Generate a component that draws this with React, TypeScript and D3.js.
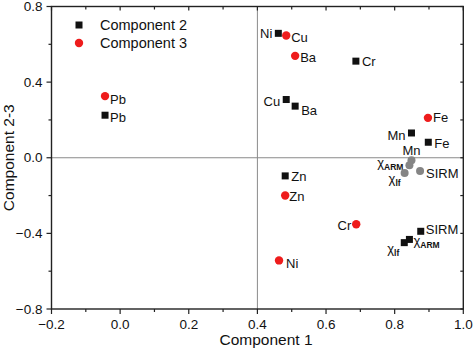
import React from "react";
import * as d3 from "d3";

// loadings
const comp2Names = ["Ni", "Cr", "Cu", "Ba", "Mn", "Fe", "Pb", "Zn", "SIRM", "χARM", "χlf"];
const comp2X = [0.461, 0.687, 0.484, 0.51, 0.849, 0.898, -0.044, 0.481, 0.876, 0.843, 0.828];
const comp2Y = [0.658, 0.511, 0.308, 0.273, 0.131, 0.082, 0.225, -0.096, -0.389, -0.432, -0.449];

const comp3Names = ["Cu", "Ba", "Fe", "Pb", "Zn", "Cr", "Ni"];
const comp3X = [0.484, 0.51, 0.897, -0.044, 0.481, 0.688, 0.463];
const comp3Y = [0.647, 0.539, 0.211, 0.326, -0.2, -0.352, -0.543];

// magnetic + Mn loadings of component 3 drawn in grey
const greyNames = ["Mn", "χARM", "χlf", "SIRM"];
const greyX = [0.849, 0.843, 0.829, 0.874];
const greyY = [-0.013, -0.04, -0.08, -0.07];

const xTicks = [-0.2, 0.0, 0.2, 0.4, 0.6, 0.8, 1.0];
const yTicks = [-0.8, -0.4, 0.0, 0.4, 0.8];
const legendLabels = ["Component 2", "Component 3"];

// label placement next to each marker: [dx, dy, anchor]
const labelPos: Record<string, [number, number, string]> = {
  "c2-Ni": [-6, 0, "end"],
  "c2-Cr": [6, 0, "start"],
  "c2-Cu": [-6, 2, "end"],
  "c2-Ba": [6, 4, "start"],
  "c2-Mn": [-6, 2, "end"],
  "c2-Fe": [6, 1, "start"],
  "c2-Pb": [5, 2, "start"],
  "c2-Zn": [6, 1, "start"],
  "c2-SIRM": [5, -2, "start"],
  "c2-χARM": [4, 2, "start"],
  "c2-χlf": [-5, 6, "end"],
  "c3-Cu": [5, 2, "start"],
  "c3-Ba": [5, 2, "start"],
  "c3-Fe": [5, 0, "start"],
  "c3-Pb": [5, 3, "start"],
  "c3-Zn": [4, 1, "start"],
  "c3-Cr": [-5, 1, "end"],
  "c3-Ni": [7, 3, "start"],
  "g-Mn": [0, -10, "middle"],
  "g-χARM": [-6, -2, "end"],
  "g-χlf": [-4, 6, "end"],
  "g-SIRM": [6, 2, "start"],
};

const W = 474;
const H = 351;
const margin = { left: 51.5, right: 10.7, top: 6.5, bottom: 42 };
const font = "Arial, 'Liberation Sans', sans-serif";
const RED = "#ee1c1c";
const GREY = "#858585";

const Label = ({ name, x, y, anchor }: { name: string; x: number; y: number; anchor: string }) => {
  if (name.startsWith("χ")) {
    return (
      <text x={x} y={y + 4} textAnchor={anchor} fontSize={13} fontFamily={font} fill="#111">
        χ
        <tspan fontSize={8.5} fontWeight="bold" dy={3}>
          {name.slice(1)}
        </tspan>
      </text>
    );
  }
  return (
    <text x={x} y={y} dy="0.35em" textAnchor={anchor} fontSize={13} fontFamily={font} fill="#111">
      {name}
    </text>
  );
};

export default function App() {
  const x = d3.scaleLinear().domain([-0.2, 1.0]).range([margin.left, W - margin.right]);
  const y = d3.scaleLinear().domain([-0.8, 0.8]).range([H - margin.bottom, margin.top]);
  const [x0, x1] = x.range();
  const [y0, y1] = y.range();

  const xMinor = d3.range(-0.2, 1.0001, 0.1);
  const yMinor = d3.range(-0.8, 0.8001, 0.2);

  const lbl = (key: string, name: string, px: number, py: number) => {
    const p = labelPos[key] || [6, 0, "start"];
    return <Label key={"l" + key} name={name} x={px + p[0]} y={py + p[1]} anchor={p[2]} />;
  };

  return (
    <svg width={W} height={H} style={{ position: "absolute", left: 0, top: 0, background: "#fff" }}>
      {/* reference lines */}
      <line x1={x(0.4)} x2={x(0.4)} y1={y1} y2={y0} stroke="#8a8a8a" strokeWidth={1} />
      <line x1={x0} x2={x1} y1={y(0)} y2={y(0)} stroke="#8a8a8a" strokeWidth={1} />

      {/* frame */}
      <rect x={x0} y={y1} width={x1 - x0} height={y0 - y1} fill="none" stroke="#222" strokeWidth={1.4} />

      {/* bottom + top ticks */}
      {xMinor.map((v, i) => (
        <g key={"xt" + i}>
          <line x1={x(v)} x2={x(v)} y1={y0} y2={y0 + (i % 2 === 0 ? 5 : 3)} stroke="#222" strokeWidth={1.2} />
          <line x1={x(v)} x2={x(v)} y1={y1} y2={y1 + (i % 2 === 0 ? 4 : 3)} stroke="#222" strokeWidth={1.2} />
        </g>
      ))}
      {xTicks.map((v) => (
        <text key={"xl" + v} x={x(v)} y={y0 + 15} dy="0.35em" textAnchor="middle" fontSize={13.5} fontFamily={font} fill="#111">
          {d3.format(".1f")(v)}
        </text>
      ))}

      {/* left + right ticks */}
      {yMinor.map((v, i) => (
        <g key={"yt" + i}>
          <line x1={x0} x2={x0 - (i % 2 === 0 ? 5 : 3)} y1={y(v)} y2={y(v)} stroke="#222" strokeWidth={1.2} />
          <line x1={x1} x2={x1 - 3} y1={y(v)} y2={y(v)} stroke="#222" strokeWidth={1.2} />
        </g>
      ))}
      {yTicks.map((v) => (
        <text key={"yl" + v} x={x0 - 9} y={y(v)} dy="0.35em" textAnchor="end" fontSize={13.5} fontFamily={font} fill="#111">
          {d3.format(".1f")(v)}
        </text>
      ))}

      {/* axis titles */}
      <text x={266} y={H - 6} textAnchor="middle" fontSize={15.5} fontFamily={font} fill="#111">
        Component 1
      </text>
      <text
        transform={`translate(14,${(y0 + y1) / 2}) rotate(-90)`}
        textAnchor="middle"
        fontSize={15.5}
        fontFamily={font}
        fill="#111"
      >
        Component 2-3
      </text>

      {/* grey points */}
      {greyNames.map((n, i) => (
        <g key={"g" + i}>
          <circle cx={x(greyX[i])} cy={y(greyY[i])} r={4} fill={GREY} />
          {lbl("g-" + n, n, x(greyX[i]), y(greyY[i]))}
        </g>
      ))}

      {/* component 2 squares */}
      {comp2Names.map((n, i) => (
        <g key={"c2" + i}>
          <rect x={x(comp2X[i]) - 3.5} y={y(comp2Y[i]) - 3.5} width={7} height={7} fill="#111" />
          {lbl("c2-" + n, n, x(comp2X[i]), y(comp2Y[i]))}
        </g>
      ))}

      {/* component 3 circles */}
      {comp3Names.map((n, i) => (
        <g key={"c3" + i}>
          <circle cx={x(comp3X[i])} cy={y(comp3Y[i])} r={4.2} fill={RED} />
          {lbl("c3-" + n, n, x(comp3X[i]), y(comp3Y[i]))}
        </g>
      ))}

      {/* legend */}
      {legendLabels.map((t, i) => (
        <g key={"lg" + i} transform={`translate(79,${25 + i * 18})`}>
          {i === 0 ? (
            <rect x={-3.5} y={-3.5} width={7} height={7} fill="#111" />
          ) : (
            <circle r={4.2} fill={RED} />
          )}
          <text x={21} dy="0.35em" fontSize={14.5} fontFamily={font} fill="#111">
            {t}
          </text>
        </g>
      ))}
    </svg>
  );
}
